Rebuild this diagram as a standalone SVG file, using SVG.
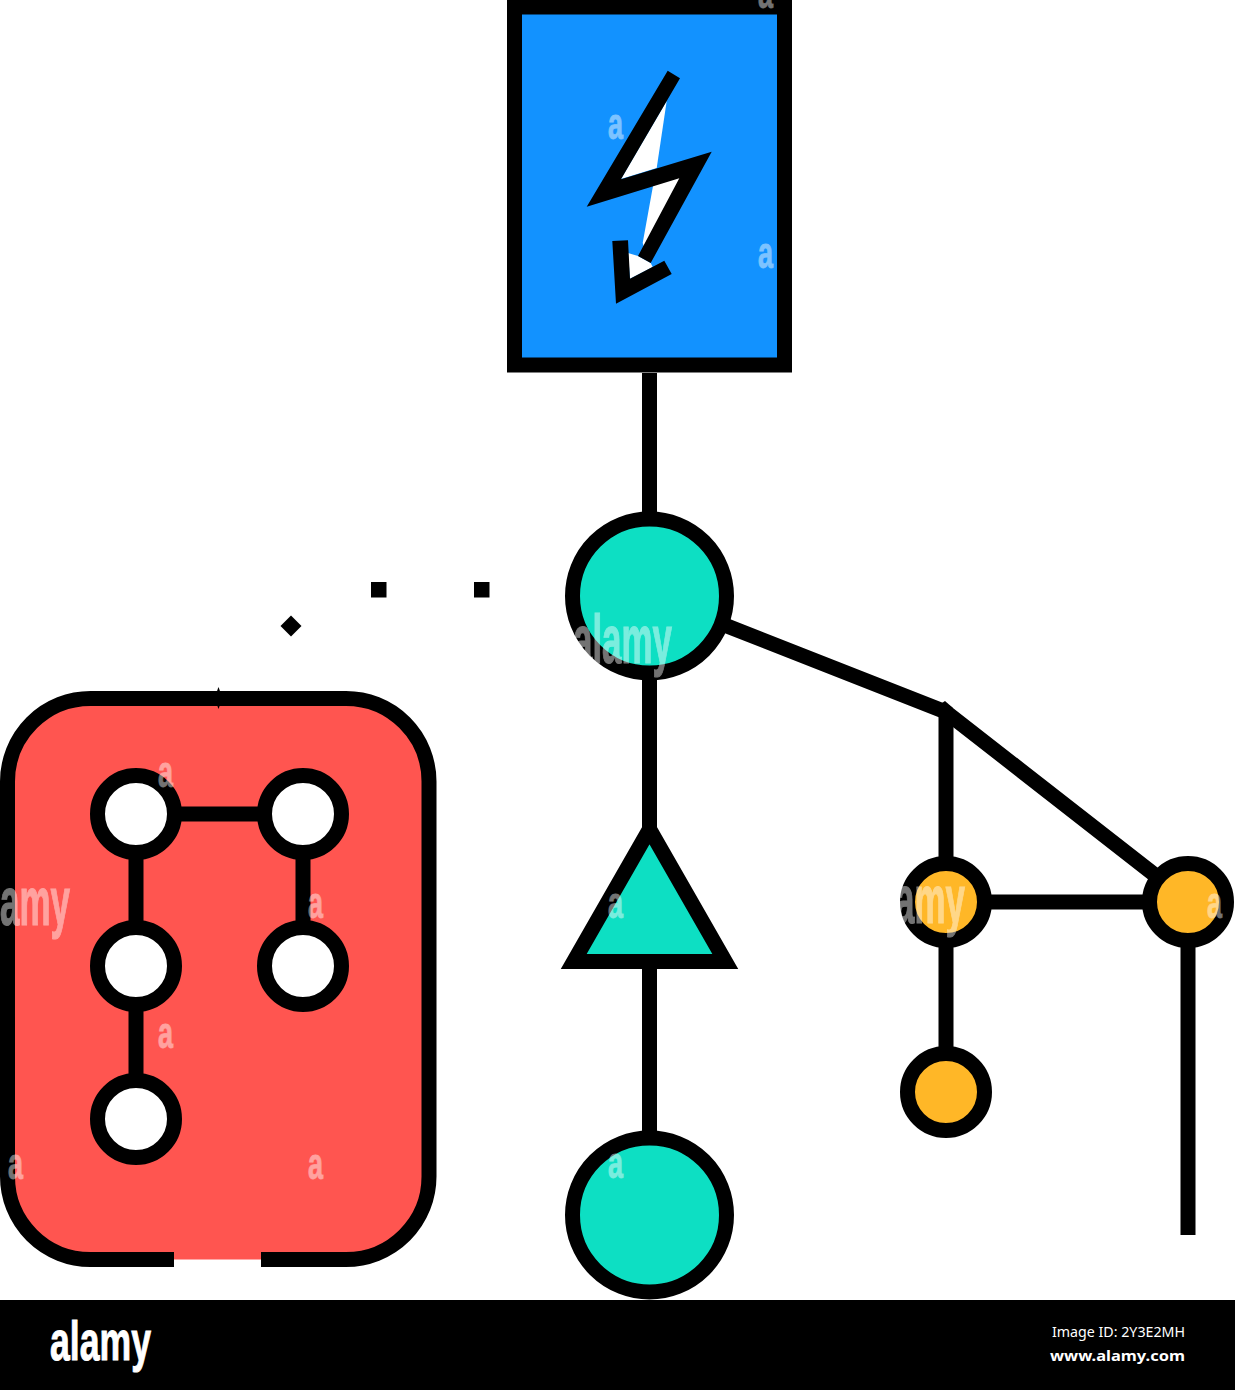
<svg xmlns="http://www.w3.org/2000/svg" width="1235" height="1390" viewBox="0 0 1235 1390">
<style>
.s{stroke:#000;stroke-width:15;stroke-linejoin:miter;fill:none}
.c{stroke:#000;stroke-width:15}
.g{fill:#0ddfc3}.y{fill:#ffb727}.w{fill:#fff}
.wm text{font-family:"Liberation Sans",Arial,sans-serif;font-weight:700;font-size:45px;fill:#fff;stroke:#fff;stroke-width:.8px;opacity:.45}
.wm text.b{font-size:68px;stroke-width:1.2px}
</style>
<rect width="1235" height="1390" fill="#fff"/>
<g id="panel">
<path d="M174 1259.500H90.500A83 83 0 0 1 7.500 1176.500V781.500A83 83 0 0 1 90.500 698.500H346A83 83 0 0 1 429 781.500V1176.500A83 83 0 0 1 346 1259.500H261" class="s" style="fill:#ff5550"/>
<path d="M214.500 698L218.500 687L222.500 698L218.500 709Z" fill="#000"/>
</g>
<g id="connectors" class="s">
<path d="M649.500 373V515M649.500 680V830M649.500 965V1135"/>
<path d="M727 626L946 712L1160 879"/>
<path d="M946 712V860M946 945V1050M990 902H1145M1188 945V1235"/>
<path d="M180 814H260M136 858V925M303 858V925M136 1010V1075"/>
</g>
<path d="M942 703L945 701L953 708L946 712Z" fill="#000"/>
<g id="n1"><circle class="c w" cx="136" cy="814" r="38.500"/></g>
<g id="n2"><circle class="c w" cx="303" cy="814" r="38.500"/></g>
<g id="n3"><circle class="c w" cx="136" cy="966" r="38.500"/></g>
<g id="n4"><circle class="c w" cx="303" cy="966" r="38.500"/></g>
<g id="n5"><circle class="c w" cx="136" cy="1119" r="38.500"/></g>
<g id="power">
<rect x="514.500" y="7" width="270" height="358" fill="#1292ff" stroke="#000" stroke-width="15"/>
<polygon class="w" points="666.700,101 621,179 656.700,168"/>
<polygon class="w" points="685,172 653,180 653,186 642.700,243 645,250"/>
<polygon class="w" points="628,253 638,256 650.700,263 652.700,267 630,278.700"/>
<polygon fill="#000" points="667.700,70.700 586.700,206.700 679.300,178.300 638,256 650.700,263 711.700,151.700 621,179.300 680,78.300"/>
<polygon fill="#000" points="612.300,241 628,240.300 630,278.700 664.300,260.700 671.700,274 616,303.700"/>
</g>
<g id="hub"><circle class="c g" cx="649.500" cy="596" r="77"/></g>
<g id="triangle"><polygon class="c g" points="649.500,829.200 573.700,961.500 725.300,961.500"/></g>
<g id="bottom"><circle class="c g" cx="649.500" cy="1215" r="77"/></g>
<g id="y1"><circle class="c y" cx="946" cy="902" r="38.500"/></g>
<g id="y2"><circle class="c y" cx="1188" cy="902" r="38.500"/></g>
<g id="y3"><circle class="c y" cx="946" cy="1092" r="38.500"/></g>
<g id="dots" fill="#000">
<rect x="371" y="582" width="15.500" height="15.500"/>
<rect x="474" y="582" width="15.500" height="15.500"/>
<polygon points="291,615.500 301.500,626 291,636.500 280.500,626"/>
</g>
<g id="footer">
<rect y="1300" width="1235" height="90" fill="#000"/>
<text x="50" y="1360" textLength="101" lengthAdjust="spacingAndGlyphs" font-family="Liberation Sans, Arial, sans-serif" font-weight="700" font-size="56" fill="#fff" stroke="#fff" stroke-width="1">alamy</text>
<text x="1052" y="1337" font-family="Noto Sans, sans-serif" font-size="14.500" fill="#fff" textLength="133" lengthAdjust="spacingAndGlyphs">Image ID: 2Y3E2MH</text>
<text x="1050" y="1361" font-family="Noto Sans, sans-serif" font-weight="700" font-size="15" fill="#fff" textLength="135" lengthAdjust="spacingAndGlyphs">www.alamy.com</text>
</g>
<g id="watermarks" class="wm">
<text x="608" y="139" textLength="15" lengthAdjust="spacingAndGlyphs">a</text>
<text x="758" y="268" textLength="15" lengthAdjust="spacingAndGlyphs">a</text>
<text x="758" y="8" textLength="15" lengthAdjust="spacingAndGlyphs">a</text>
<text x="158" y="787" textLength="15" lengthAdjust="spacingAndGlyphs">a</text>
<text x="308" y="918" textLength="15" lengthAdjust="spacingAndGlyphs">a</text>
<text x="158" y="1048" textLength="15" lengthAdjust="spacingAndGlyphs">a</text>
<text x="8" y="1179" textLength="15" lengthAdjust="spacingAndGlyphs">a</text>
<text x="308" y="1179" textLength="15" lengthAdjust="spacingAndGlyphs">a</text>
<text x="608" y="1178" textLength="15" lengthAdjust="spacingAndGlyphs">a</text>
<text x="608" y="918" textLength="15" lengthAdjust="spacingAndGlyphs">a</text>
<text x="1207" y="918" textLength="15" lengthAdjust="spacingAndGlyphs">a</text>
<text class="b" x="0" y="925" textLength="70" lengthAdjust="spacingAndGlyphs">amy</text>
<text class="b" x="573" y="663" textLength="99" lengthAdjust="spacingAndGlyphs">alamy</text>
<text class="b" x="866" y="923" textLength="99" lengthAdjust="spacingAndGlyphs">alamy</text>
</g>
</svg>
